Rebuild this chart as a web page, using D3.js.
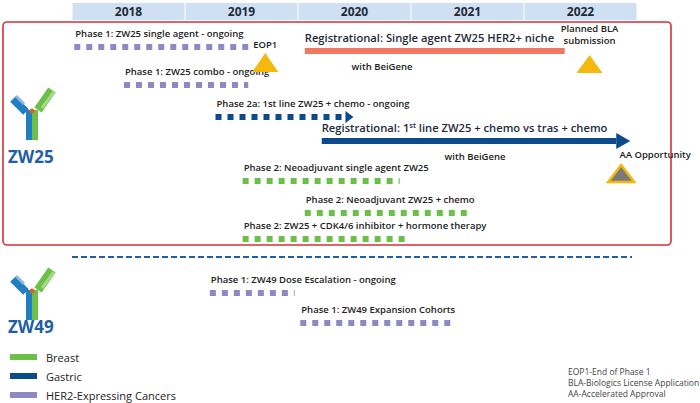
<!DOCTYPE html>
<html><head><meta charset="utf-8">
<script src="https://cdn.jsdelivr.net/npm/d3@7"></script>
<style>body{margin:0;background:#fff}text{font-family:"Open Sans",sans-serif}</style>
</head><body><div id="chart"></div>
<script>
const years = [2018, 2019, 2020, 2021, 2022];
const colors = { breast: "#6cc04a", gastric: "#0b4a8b", her2: "#8e88c4", reg: "#f2775f" };

const trialNames = ["Phase 1: ZW25 single agent - ongoing", "Phase 1: ZW25 combo - ongoing",
  "Phase 2a: 1st line ZW25 + chemo - ongoing", "Phase 2: Neoadjuvant single agent ZW25",
  "Phase 2: Neoadjuvant ZW25 + chemo", "Phase 2: ZW25 + CDK4/6 inhibitor + hormone therapy",
  "Phase 1: ZW49 Dose Escalation - ongoing", "Phase 1: ZW49 Expansion Cohorts"];
const trialStart = [2018.02, 2018.46, 2019.27, 2019.51, 2020.06, 2019.51, 2019.22, 2020.02];
const trialEnd = [2019.56, 2019.56, 2020.42, 2020.9, 2021.52, 2020.95, 2019.97, 2021.35];
const trialType = ["her2", "her2", "gastric", "breast", "breast", "breast", "her2", "her2"];
const trialRow = [47, 85, 117, 181, 213, 239, 293, 323];

const regNames = ["Registrational: Single agent ZW25 HER2+ niche", "Registrational: 1st line ZW25 + chemo vs tras + chemo"];
const regStart = [2020.06, 2020.21];
const regEnd = [2022.36, 2022.94];
const regType = ["reg", "gastric"];
const regRow = [51, 141];

const milestoneNames = [["EOP1"], ["Planned BLA", "submission"], ["AA Opportunity"]];
const milestoneAt = [2019.71, 2022.58, 2022.86];
const legendNames = ["Breast", "Gastric", "HER2-Expressing Cancers"];
const footnotes = ["EOP1-End of Phase 1", "BLA-Biologics License Application", "AA-Accelerated Approval"];

const svg = d3.select("#chart").append("svg").attr("width", 700).attr("height", 403);
const x = d3.scaleLinear().domain([2018, 2023]).range([72, 637]);

// year header
const hdr = svg.selectAll(".yr").data(years).join("g");
hdr.append("rect").attr("x", d => x(d) + 0.5).attr("y", 3).attr("width", x(2019) - x(2018) - 1).attr("height", 17).attr("fill", "#cfe0f3");
hdr.append("text").attr("x", d => x(d + 0.5)).attr("y", 16).attr("text-anchor", "middle")
  .attr("font-size", 12).attr("font-weight", "bold").attr("fill", "#1e2a3a").text(d => d);

svg.append("rect").attr("x", 3).attr("y", 22).attr("width", 668).attr("height", 223).attr("rx", 4)
  .attr("fill", "none").attr("stroke", "#d8303a").attr("stroke-width", 1.6);
svg.append("line").attr("x1", x(2018)).attr("x2", x(2023) - 5).attr("y1", 257).attr("y2", 257)
  .attr("stroke", "#1f5ea8").attr("stroke-width", 2).attr("stroke-dasharray", "6,3");

// dotted trials
trialNames.forEach((n, i) => {
  svg.append("text").attr("x", x(trialStart[i]) + 1).attr("y", trialRow[i] - 10).attr("font-size", 9.5)
    .attr("font-weight", 600).attr("fill", "#222").text(n);
  svg.append("line").attr("x1", x(trialStart[i])).attr("x2", x(trialEnd[i])).attr("y1", trialRow[i]).attr("y2", trialRow[i])
    .attr("stroke", colors[trialType[i]]).attr("stroke-width", 6).attr("stroke-dasharray", "6,6");
  if (trialType[i] === "gastric")
    svg.append("path").attr("d", `M${x(trialEnd[i])},${trialRow[i] - 6}L${x(trialEnd[i]) + 8},${trialRow[i]}L${x(trialEnd[i])},${trialRow[i] + 6}Z`).attr("fill", colors.gastric);
});

// registrational bars
regNames.forEach((n, i) => {
  const parts = n.split("1st");
  const t = svg.append("text").attr("x", x(regStart[i])).attr("y", regRow[i] - 9).attr("font-size", 11.2)
    .attr("font-weight", 600).attr("fill", "#1e2a3a");
  if (parts.length > 1) {
    t.append("tspan").text(parts[0] + "1");
    t.append("tspan").attr("font-size", 7.5).attr("dy", -4).text("st");
    t.append("tspan").attr("dy", 4).text(parts[1]);
  } else t.text(n);
  const end = regType[i] === "gastric" ? x(regEnd[i]) - 14 : x(regEnd[i]);
  svg.append("rect").attr("x", x(regStart[i])).attr("y", regRow[i] - 3).attr("width", end - x(regStart[i])).attr("height", 6).attr("fill", colors[regType[i]]);
  if (regType[i] === "gastric")
    svg.append("path").attr("d", `M${end},${regRow[i] - 8}L${x(regEnd[i])},${regRow[i]}L${end},${regRow[i] + 8}Z`).attr("fill", colors.gastric);
});
svg.append("text").attr("x", 382).attr("y", 70).attr("text-anchor", "middle").attr("font-size", 9.5).attr("font-weight", 600).attr("fill", "#222").text("with BeiGene");
svg.append("text").attr("x", 475).attr("y", 160).attr("text-anchor", "middle").attr("font-size", 9.5).attr("font-weight", 600).attr("fill", "#222").text("with BeiGene");

// milestones
const mY = [[53, 72], [55, 73], [165, 182]];
const mTextX = [0, 0, 34], mTextY = [48, 32, 158];
milestoneNames.forEach((lines, i) => {
  const cx = x(milestoneAt[i]);
  svg.append("path").attr("d", `M${cx},${mY[i][0]}L${cx + 13},${mY[i][1]}L${cx - 13},${mY[i][1]}Z`)
    .attr("fill", i === 2 ? "#7a7a7a" : "#f5b80c").attr("stroke", "#f5b80c").attr("stroke-width", i === 2 ? 2.5 : 0);
  lines.forEach((l, j) => svg.append("text").attr("x", cx + mTextX[i]).attr("y", mTextY[i] + j * 12)
    .attr("text-anchor", "middle").attr("font-size", 9.5).attr("font-weight", 600).attr("fill", "#222").text(l));
});

// antibody logos
function logo(ox, oy) {
  const g = svg.append("g").attr("transform", `translate(${ox},${oy})`);
  g.append("line").attr("x1", 22).attr("y1", 30).attr("x2", 9).attr("y2", 17).attr("stroke", "#1f7fc2").attr("stroke-width", 8);
  g.append("line").attr("x1", 20).attr("y1", 22).attr("x2", 12).attr("y2", 14).attr("stroke", "#8fb8e0").attr("stroke-width", 3);
  g.append("line").attr("x1", 34).attr("y1", 28).attr("x2", 48).attr("y2", 8).attr("stroke", "#6cc04a").attr("stroke-width", 9);
  g.append("line").attr("x1", 38).attr("y1", 26).attr("x2", 50).attr("y2", 10).attr("stroke", "#a6d98a").attr("stroke-width", 3);
  g.append("rect").attr("x", 22).attr("y", 28).attr("width", 6).attr("height", 30).attr("fill", "#1f7fc2");
  g.append("rect").attr("x", 28).attr("y", 28).attr("width", 6).attr("height", 30).attr("fill", "#6cc04a");
  g.append("circle").attr("cx", 28).attr("cy", 29).attr("r", 2.5).attr("fill", "#d9622b");
  return g;
}
logo(4, 82);
logo(4, 262);
svg.append("text").attr("x", 8).attr("y", 163).attr("font-size", 17).attr("font-weight", 700).attr("fill", "#1f5ea8").text("ZW25");
svg.append("text").attr("x", 8).attr("y", 333).attr("font-size", 17).attr("font-weight", 700).attr("fill", "#1f5ea8").text("ZW49");

// legend
const legColors = [colors.breast, colors.gastric, colors.her2];
legendNames.forEach((n, i) => {
  svg.append("rect").attr("x", 10).attr("y", 354 + i * 19).attr("width", 27).attr("height", 6).attr("fill", legColors[i]);
  svg.append("text").attr("x", 46).attr("y", 362 + i * 19).attr("font-size", 11).attr("fill", "#222").text(n);
});
footnotes.forEach((n, i) => svg.append("text").attr("x", 568).attr("y", 375 + i * 11).attr("font-size", 8.5).attr("fill", "#444").text(n));
</script></body></html>
